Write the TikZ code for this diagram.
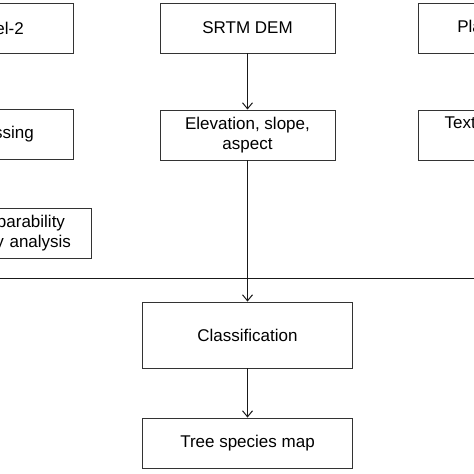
\documentclass[tikz,border=0pt]{standalone}
\usepackage{fontspec}
\setmainfont{Liberation Sans}
\usetikzlibrary{arrows.meta}
\begin{document}
\begin{tikzpicture}[x=1pt,y=1pt,
  box/.style={draw=black!80, line width=0.9pt, minimum width=175pt, minimum height=50pt,
    inner sep=0pt, align=center, font=\fontsize{17}{19.5}\selectfont, text=black},
  conn/.style={draw=black!90, line width=1pt},
  arr/.style={conn, -{Straight Barb[length=6pt,width=10pt,line width=1pt]}}]
\useasboundingbox (0,0) rectangle (474,474);
\fill[white] (0,0) rectangle (474,474);
\begin{scope}
\clip (0,0) rectangle (474,474);
\node[box] (s2) at (-14.5,446) {Sentinel-2};
\node[box] (pre) at (-14.5,339.5) {Preprocessing\hspace{12pt}};
\node[box, minimum width=141pt, text width=101pt, inner xsep=20pt, align=right] (sep) at (20.5,241) {Separability\kern6pt\mbox{}\\y analysis};
\node[box] (srtm) at (247.5,446) {SRTM DEM};
\node[box] (elev) at (247.5,339) {Elevation, slope,\\aspect};
\node[box] (planet) at (505.5,446) {PlanetScope};
\node[box] (tex) at (505.5,339) {Texture features\\\strut};
\node[box, minimum width=210pt, minimum height=66pt] (cls) at (247.5,139) {Classification};
\node[box, minimum width=210pt] (map) at (247.5,31) {Tree species map};
\coordinate (hl) at (-10,195);
\coordinate (hr) at (484,195);
\draw[conn] (hl) -- (hr);
\draw[arr] (srtm) -- (elev);
\draw[arr] (elev) -- (cls);
\draw[arr] (cls) -- (map);
\end{scope}
\end{tikzpicture}
\end{document}
